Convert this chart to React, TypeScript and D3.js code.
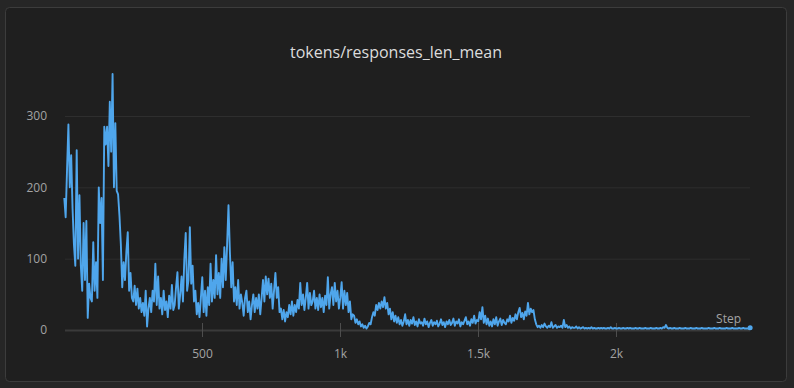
import React, { useRef, useEffect } from "react";
import * as d3 from "d3";

const TITLE = "tokens/responses_len_mean";
const X_LABEL = "Step";
const STEP_START = 1;
const STEP_INTERVAL = 5;
const Y_TICKS = [0, 100, 200, 300];
const X_TICKS = [500, 1000, 1500, 2000];

// one value every 5 steps
const responsesLenMean = [
  185, 158, 225, 288, 200, 245, 170, 120, 90, 252,
  100, 189, 90, 55, 150, 70, 153, 17, 65, 45,
  40, 123, 55, 95, 45, 200, 150, 185, 70, 285,
  260, 285, 230, 320, 250, 359, 200, 290, 195, 190,
  160, 120, 60, 95, 70, 110, 137, 55, 80, 45,
  40, 62, 35, 58, 30, 45, 25, 38, 20, 55,
  5, 30, 45, 25, 55, 40, 93, 35, 75, 30,
  45, 22, 55, 28, 40, 18, 48, 30, 63, 28,
  35, 60, 81, 30, 50, 75, 40, 100, 136, 55,
  70, 144, 65, 90, 40, 55, 22, 38, 18, 45,
  74, 25, 55, 20, 60, 35, 93, 40, 70, 45,
  105, 50, 80, 45, 100, 60, 116, 70, 120, 175,
  110, 60, 95, 40, 60, 35, 70, 30, 50, 38,
  20, 45, 55, 25, 40, 15, 35, 50, 25, 45,
  30, 50, 22, 45, 70, 40, 75, 50, 72, 45,
  65, 30, 55, 80, 45, 60, 25, 30, 15, 28,
  12, 25, 18, 35, 22, 40, 20, 35, 25, 42,
  30, 66, 35, 50, 28, 45, 66, 30, 52, 35,
  40, 55, 30, 45, 28, 50, 32, 45, 25, 48,
  35, 74, 30, 50, 60, 35, 66, 40, 55, 30,
  45, 67, 30, 55, 35, 52, 25, 40, 15, 22,
  20, 10, 15, 8, 12, 5, 8, 3, 6, 2,
  5, 10, 8, 18, 25, 20, 35, 28, 38, 30,
  40, 32, 46, 30, 38, 22, 30, 15, 25, 12,
  20, 10, 18, 8, 14, 6, 12, 22, 8, 14,
  6, 14, 9, 18, 7, 12, 5, 15, 9, 11,
  6, 16, 8, 12, 4, 10, 14, 6, 11, 8,
  13, 5, 9, 15, 7, 11, 4, 12, 8, 14,
  7, 10, 16, 6, 12, 9, 15, 5, 11, 8,
  13, 18, 8, 12, 6, 15, 10, 20, 9, 14,
  12, 25, 15, 32, 10, 20, 8, 16, 6, 12,
  5, 15, 8, 18, 6, 12, 16, 7, 14, 10,
  8, 15, 12, 20, 10, 17, 13, 22, 15, 25,
  31, 18, 24, 15, 26, 20, 38, 22, 30, 25,
  28, 15, 8, 4, 6, 3, 7, 4, 9, 5,
  3, 6, 4, 11, 3, 5, 7, 3, 5, 4,
  6, 3, 14, 4, 7, 3, 5, 2, 4, 3,
  3, 5, 2, 4, 2, 3, 4, 2, 3, 2,
  3, 2, 4, 2, 3, 2, 2, 3, 2, 3,
  2, 3, 2, 2, 3, 2, 4, 2, 2, 3,
  2, 2, 3, 2, 2, 3, 2, 2, 3, 2,
  3, 2, 2, 2, 3, 2, 2, 3, 2, 2,
  2, 3, 2, 2, 2, 3, 2, 2, 2, 3,
  2, 2, 3, 2, 4, 3, 7, 3, 2, 3,
  2, 2, 3, 2, 2, 2, 3, 2, 2, 2,
  3, 2, 2, 2, 3, 2, 2, 2, 3, 2,
  2, 2, 3, 2, 2, 2, 2, 3, 2, 2,
  2, 3, 2, 2, 2, 3, 2, 2, 2, 2,
  3, 2, 2, 2, 3, 2, 2, 2, 2, 3,
  2, 2, 3, 2, 2, 2, 2, 3,
];

const WIDTH = 794;
const HEIGHT = 388;
const FONT = "'Open Sans', 'Noto Sans', sans-serif";

const App: React.FC = () => {
  const svgRef = useRef<SVGSVGElement>(null);

  useEffect(() => {
    if (!svgRef.current) return;
    const svg = d3.select(svgRef.current);
    svg.selectAll("*").remove();

    // page + panel
    svg.append("rect").attr("width", WIDTH).attr("height", HEIGHT).attr("fill", "#262626");
    svg
      .append("rect")
      .attr("x", 5.5)
      .attr("y", 7.5)
      .attr("width", 781)
      .attr("height", 374)
      .attr("rx", 4)
      .attr("fill", "#1f1f1f")
      .attr("stroke", "#3c3c3c");

    const plotLeft = 65;
    const plotRight = 750;

    const xScale = d3.scaleLinear().domain([0, 2500]).range([64, 754]);
    const yScale = d3.scaleLinear().domain([0, 300]).range([330, 116]);

    // y grid + labels
    const yAxis = svg
      .append("g")
      .attr("transform", `translate(${plotLeft},0)`)
      .call(
        d3
          .axisLeft(yScale)
          .tickValues(Y_TICKS)
          .tickSize(-(plotRight - plotLeft))
          .tickPadding(18)
          .tickFormat(d3.format("d"))
      );
    yAxis.select(".domain").remove();
    yAxis.attr("font-family", FONT).attr("font-size", 12);
    yAxis.selectAll(".tick line").attr("stroke", "#2e2e2e");
    yAxis
      .selectAll<SVGGElement, number>(".tick")
      .filter((d) => d === 0)
      .select("line")
      .attr("stroke", "#3a3a3a")
      .attr("stroke-width", 2);
    yAxis.selectAll(".tick text").attr("fill", "#a3a3a3");

    // x ticks + labels
    const xAxis = svg
      .append("g")
      .attr("transform", "translate(0,323)")
      .call(
        d3
          .axisBottom(xScale)
          .tickValues(X_TICKS)
          .tickSize(14)
          .tickPadding(12)
          .tickFormat((d) => (+d >= 1000 ? `${+d / 1000}k` : `${d}`))
      );
    xAxis.select(".domain").remove();
    xAxis.attr("font-family", FONT).attr("font-size", 12);
    xAxis.selectAll(".tick line").attr("stroke", "#4d4d4d");
    xAxis.selectAll(".tick text").attr("fill", "#a3a3a3");

    // series
    const line = d3
      .line<number>()
      .x((_, i) => xScale(STEP_START + i * STEP_INTERVAL))
      .y((d) => yScale(d));

    svg
      .append("path")
      .datum(responsesLenMean)
      .attr("d", line)
      .attr("fill", "none")
      .attr("stroke", "#4fa6ec")
      .attr("stroke-width", 1.9)
      .attr("stroke-linejoin", "round");

    const lastIdx = responsesLenMean.length - 1;
    svg
      .append("circle")
      .attr("cx", xScale(STEP_START + lastIdx * STEP_INTERVAL))
      .attr("cy", yScale(responsesLenMean[lastIdx]))
      .attr("r", 2.5)
      .attr("fill", "#4fa6ec");

    svg
      .append("text")
      .attr("x", 741)
      .attr("y", 323)
      .attr("text-anchor", "end")
      .attr("font-family", FONT)
      .attr("font-size", 12)
      .attr("fill", "#a3a3a3")
      .text(X_LABEL);

    svg
      .append("text")
      .attr("x", 396)
      .attr("y", 58)
      .attr("text-anchor", "middle")
      .attr("font-family", FONT)
      .attr("font-size", 16)
      .attr("fill", "#dcdcdc")
      .text(TITLE);
  }, []);

  return (
    <svg
      ref={svgRef}
      width={WIDTH}
      height={HEIGHT}
      style={{ position: "absolute", left: 0, top: 0, display: "block" }}
    ></svg>
  );
};

export default App;
